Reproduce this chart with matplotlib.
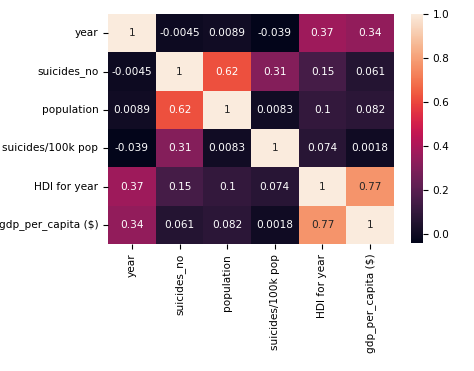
import matplotlib
matplotlib.use("Agg")
import matplotlib.pyplot as plt
import numpy as np
import seaborn as sns

labels = ["year", "suicides_no", "population", "suicides/100k pop",
          "HDI for year", "gdp_per_capita ($)"]

row_year = [1, -0.0045, 0.0089, -0.039, 0.37, 0.34]
row_suicides = [-0.0045, 1, 0.62, 0.31, 0.15, 0.061]
row_population = [0.0089, 0.62, 1, 0.0083, 0.1, 0.082]
row_rate = [-0.039, 0.31, 0.0083, 1, 0.074, 0.0018]
row_hdi = [0.37, 0.15, 0.1, 0.074, 1, 0.77]
row_gdp = [0.34, 0.061, 0.082, 0.0018, 0.77, 1]

corr = np.array([row_year, row_suicides, row_population, row_rate, row_hdi, row_gdp])

fs = 7.6
plt.rcParams["font.size"] = fs

fig = plt.figure(figsize=(4.74, 3.71), dpi=100)
ax = fig.add_axes([0.228, 0.342, 0.603, 0.620])
cax = fig.add_axes([0.867, 0.345, 0.025, 0.617])

sns.heatmap(corr, annot=True, fmt=".2g", xticklabels=labels, yticklabels=labels,
            ax=ax, cbar_ax=cax, annot_kws={"size": fs})
ax.tick_params(axis="both", labelsize=fs)
cax.tick_params(labelsize=fs)

fig.savefig("out.png", dpi=100)
